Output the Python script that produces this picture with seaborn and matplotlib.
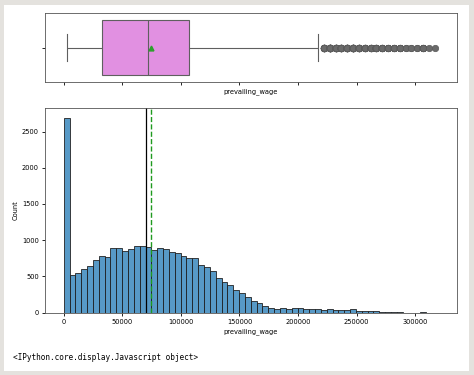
import numpy as np
import pandas as pd
import matplotlib
matplotlib.use("Agg")
import matplotlib.pyplot as plt
from matplotlib.patches import Rectangle
import seaborn as sns

# histogram (64 equal bins between min and max wage)
wage_min = 2.1367
wage_max = 319210.27
n_bins = 64
counts = [2690, 522, 545, 605, 651, 725, 781, 767, 887, 896,
          850, 878, 924, 924, 900, 864, 896, 882, 836, 822,
          781, 748, 758, 656, 633, 573, 480, 430, 379, 314,
          268, 212, 162, 129, 92, 65, 55, 69, 51, 69,
          60, 51, 51, 46, 37, 51, 37, 32, 37, 46,
          28, 18, 18, 18, 14, 9, 9, 9, 2, 2,
          2, 9, 1, 1]
mean_wage = 74456
median_wage = 70308
xticks = [0, 50000, 100000, 150000, 200000, 250000, 300000]
yticks = [0, 500, 1000, 1500, 2000, 2500]

edges = np.linspace(wage_min, wage_max, n_bins + 1)
centers = (edges[:-1] + edges[1:]) / 2
df = pd.DataFrame({'prevailing_wage': np.repeat(centers, counts)})

plt.rcParams.update({
    'font.size': 4.8,
    'axes.linewidth': 0.6,
    'axes.edgecolor': '#555555',
    'xtick.major.size': 2,
    'ytick.major.size': 2,
    'xtick.major.width': 0.6,
    'ytick.major.width': 0.6,
    'xtick.major.pad': 2.5,
    'ytick.major.pad': 2.5,
    'axes.labelpad': 2.5,
})

fig = plt.figure(figsize=(4.74, 3.75), dpi=100)
fig.patch.set_facecolor('#e4e2de')
fig.patches.append(Rectangle((4 / 474, 4 / 375), 465 / 474, 366 / 375,
                             transform=fig.transFigure, facecolor='white',
                             edgecolor='none', zorder=-1))

ax_box = fig.add_axes([45 / 474, 1 - 82 / 375, 411.5 / 474, 69 / 375])
ax_hist = fig.add_axes([45 / 474, 1 - 312.7 / 375, 411.5 / 474, 204.7 / 375],
                       sharex=ax_box)

sns.boxplot(data=df, x='prevailing_wage', ax=ax_box, showmeans=True,
            color='violet', linecolor='#5f5f5f', linewidth=0.8,
            flierprops=dict(marker='o', markersize=4.6, markerfacecolor='#6a6a6a',
                            markeredgecolor='#5a5a5a', markeredgewidth=0.5),
            meanprops=dict(marker='^', markersize=3.5, markerfacecolor='#2ca02c',
                           markeredgecolor='#2ca02c'))
ax_box.set_yticks([0])
ax_box.set_yticklabels([''])
ax_box.tick_params(labelbottom=False)
ax_box.set_xlabel('prevailing_wage')

sns.histplot(data=df, x='prevailing_wage', ax=ax_hist, bins=n_bins,
             binrange=(wage_min, wage_max), edgecolor='#222222', linewidth=0.6)
ax_hist.axvline(mean_wage, color='#1f9a1f', linestyle='--', linewidth=1.0)
ax_hist.axvline(median_wage, color='black', linestyle='-', linewidth=0.9)
ax_hist.set_xticks(xticks)
ax_hist.set_yticks(yticks)
ax_hist.set_ylabel('Count')
ax_hist.set_xlabel('prevailing_wage')

fig.text(13 / 474, 1 - 358 / 375, '<IPython.core.display.Javascript object>',
         family='DejaVu Sans Mono', fontsize=5.6, va='center', ha='left')

fig.savefig('out.png', dpi=100, facecolor=fig.get_facecolor())
